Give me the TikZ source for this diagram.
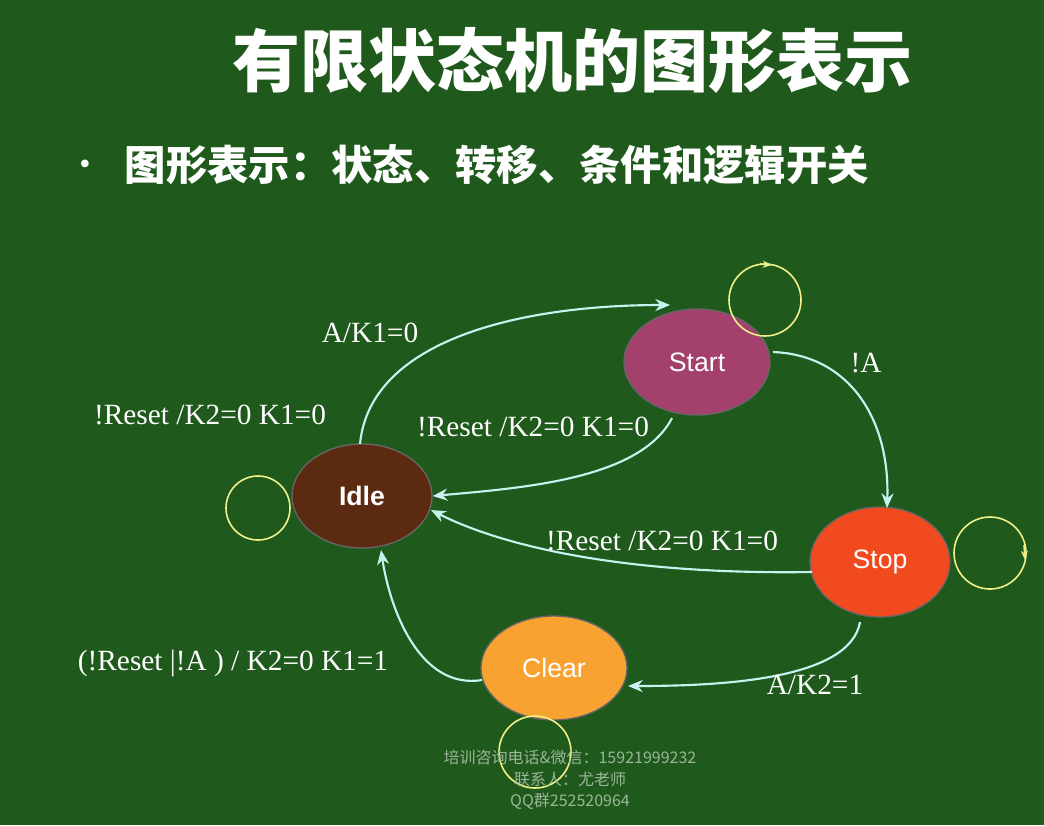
\documentclass[tikz,border=0pt]{standalone}
\usepackage{fontspec}
\setmainfont{Liberation Serif}
\newfontfamily\cjk{Noto Sans CJK SC}
\newfontfamily\sans{Liberation Sans}
\usetikzlibrary{arrows.meta,positioning}
\definecolor{board}{HTML}{1F5A1C}
\definecolor{startc}{HTML}{A3406C}
\definecolor{idlec}{HTML}{5C2A10}
\definecolor{stopc}{HTML}{F04A1E}
\definecolor{clearc}{HTML}{F8A232}
\definecolor{wire}{HTML}{C8F2F0}
\definecolor{loopc}{HTML}{F0F08A}
\tikzset{
  state/.style={ellipse, draw=black!60, line width=1pt, minimum width=146\unitpx, minimum height=106\unitpx,
    text=white, font=\sans\fontsize{20}{22}\selectfont},
  trans/.style={draw=wire, line width=1.6pt, -{Stealth[length=11pt,width=9pt]}},
  selfloop/.style={draw=loopc, line width=1.2pt},
  cond/.style={text=white, font=\fontsize{22}{24}\selectfont, inner sep=1pt},
}
\newlength\unitpx \setlength\unitpx{0.75pt}
\usetikzlibrary{shapes.geometric}
\begin{document}
\begin{tikzpicture}[x=0.75pt,y=-0.75pt]
  \fill[board] (0,0) rectangle (1044,825);
  \useasboundingbox (0,0) rectangle (1044,825);
  % title and bullet
  \node[text=white, font=\cjk\bfseries\fontsize{51}{55}\selectfont] (title) at (572,60) {有限状态机的图形表示};
  \node[text=white, font=\fontsize{24}{28}\selectfont] (dot) at (85,167) {•};
  \node[text=white, font=\cjk\bfseries\fontsize{31}{35}\selectfont, anchor=west] (bullet) at (120,165) {图形表示：状态、转移、条件和逻辑开关};
  % states
  \node[state, fill=startc] (start) at (697,362) {Start};
  \node[state, fill=idlec, minimum width=140\unitpx, minimum height=104\unitpx] (idle) at (362,496) {\bfseries Idle};
  \node[state, fill=stopc, minimum width=140\unitpx, minimum height=110\unitpx] (stop) at (880,562) {Stop};
  \node[state, fill=clearc, minimum height=104\unitpx] (clear) at (554,668) {Clear};
  % self loops
  \draw[selfloop] (765,300) circle (36);
  \draw[selfloop] (258,508) circle (32);
  \draw[selfloop] (990,553) circle (36);
  \draw[selfloop] (535,752) circle (36);
  \draw[selfloop, -{Stealth[length=7pt]}] (760,264) -- (772,265);
  \draw[selfloop, -{Stealth[length=7pt]}] (1024,545) -- (1025,560);
  % transitions
  \coordinate (idleTop) at (360,444);
  \draw[trans] (idleTop) .. controls (370,340) and (520,305) .. (670,305);
  \draw[trans] (672,418) .. controls (640,480) and (520,488) .. (idle.east);
  \draw[trans] (773,352) .. controls (850,355) and (890,420) .. (887,508);
  \draw[trans] (812,572) .. controls (620,575) and (500,545) .. (431,510);
  \draw[trans] (860,622) .. controls (850,680) and (720,686) .. (628,686);
  \draw[trans] (482,680) .. controls (420,690) and (390,610) .. (381,550);
  % conditions
  \node[cond] (c1) at (370,333) {A/K1=0};
  \node[cond] (c2) at (210,415) {!Reset /K2=0 K1=0};
  \node[cond] (c3) at (533,427) {!Reset /K2=0 K1=0};
  \node[cond] (c4) at (866,363) {!A};
  \node[cond] (c5) at (662,541) {!Reset /K2=0 K1=0};
  \node[cond] (c6) at (815,685) {A/K2=1};
  \node[cond] (c7) at (233,663) {(!Reset |!A ) / K2=0 K1=1};
  % watermark
  \node[text=white!55!board, font=\cjk\fontsize{12}{16}\selectfont, align=center] (mark) at (570,780)
    {培训咨询电话\&微信：15921999232\\联系人：尤老师\\QQ群252520964};
\end{tikzpicture}
\end{document}
